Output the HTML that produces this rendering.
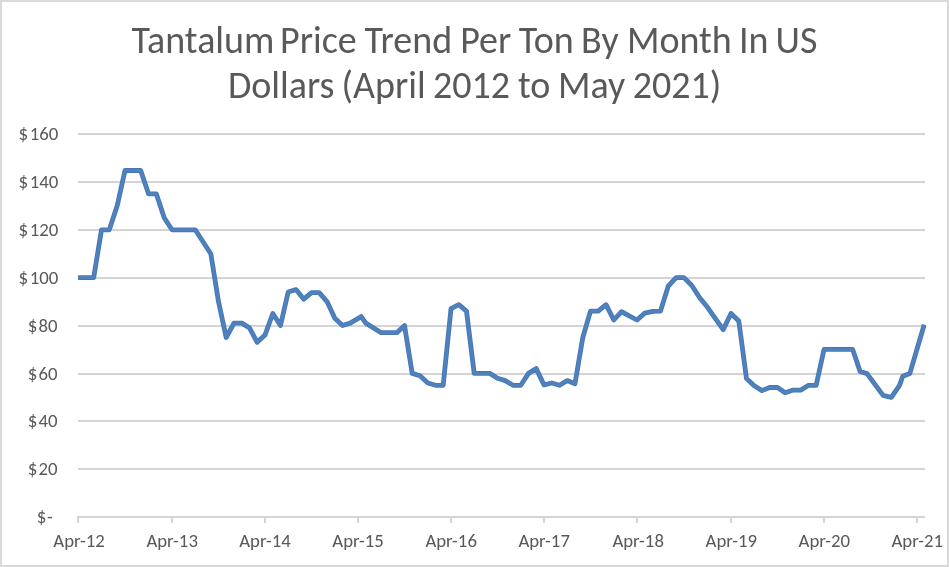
<!DOCTYPE html><html><head><meta charset="utf-8"><style>html,body{margin:0;padding:0;background:#fff;}svg{display:block}text{font-family:Carlito, 'Liberation Sans', sans-serif;fill:#595959}</style></head><body>
<svg width="949" height="567" viewBox="0 0 949 567">
<rect x="0" y="0" width="949" height="567" fill="#fff"/>
<rect x="1" y="1" width="947" height="565" fill="none" stroke="#d9d9d9" stroke-width="2"/>
<g stroke="#d4d4d4" stroke-width="2"><line x1="78" y1="134" x2="925" y2="134"/><line x1="78" y1="182" x2="925" y2="182"/><line x1="78" y1="230" x2="925" y2="230"/><line x1="78" y1="278" x2="925" y2="278"/><line x1="78" y1="326" x2="925" y2="326"/><line x1="78" y1="374" x2="925" y2="374"/><line x1="78" y1="421" x2="925" y2="421"/><line x1="78" y1="469" x2="925" y2="469"/></g>
<g stroke="#d4d4d4" stroke-width="2"><line x1="78" y1="517" x2="925" y2="517"/><line x1="78" y1="516" x2="78" y2="523"/><line x1="172" y1="516" x2="172" y2="523"/><line x1="265" y1="516" x2="265" y2="523"/><line x1="358" y1="516" x2="358" y2="523"/><line x1="451" y1="516" x2="451" y2="523"/><line x1="544" y1="516" x2="544" y2="523"/><line x1="637" y1="516" x2="637" y2="523"/><line x1="731" y1="516" x2="731" y2="523"/><line x1="824" y1="516" x2="824" y2="523"/><line x1="917" y1="516" x2="917" y2="523"/></g>
<g font-size="18.8"><text x="58.4" y="140" text-anchor="end" textLength="28.56" lengthAdjust="spacingAndGlyphs">160</text><text x="18.50" y="139.5" font-size="21" textLength="9.65" lengthAdjust="spacingAndGlyphs">$</text><text x="58.4" y="188" text-anchor="end" textLength="28.56" lengthAdjust="spacingAndGlyphs">140</text><text x="18.50" y="187.5" font-size="21" textLength="9.65" lengthAdjust="spacingAndGlyphs">$</text><text x="58.4" y="236" text-anchor="end" textLength="28.56" lengthAdjust="spacingAndGlyphs">120</text><text x="18.50" y="235.5" font-size="21" textLength="9.65" lengthAdjust="spacingAndGlyphs">$</text><text x="58.4" y="284" text-anchor="end" textLength="28.56" lengthAdjust="spacingAndGlyphs">100</text><text x="18.50" y="283.5" font-size="21" textLength="9.65" lengthAdjust="spacingAndGlyphs">$</text><text x="57.6" y="332" text-anchor="end" textLength="19.05" lengthAdjust="spacingAndGlyphs">80</text><text x="27.70" y="331.5" font-size="21" textLength="9.65" lengthAdjust="spacingAndGlyphs">$</text><text x="57.6" y="380" text-anchor="end" textLength="19.05" lengthAdjust="spacingAndGlyphs">60</text><text x="27.70" y="379.5" font-size="21" textLength="9.65" lengthAdjust="spacingAndGlyphs">$</text><text x="57.6" y="427" text-anchor="end" textLength="19.05" lengthAdjust="spacingAndGlyphs">40</text><text x="27.70" y="426.5" font-size="21" textLength="9.65" lengthAdjust="spacingAndGlyphs">$</text><text x="57.6" y="475" text-anchor="end" textLength="19.05" lengthAdjust="spacingAndGlyphs">20</text><text x="27.70" y="474.5" font-size="21" textLength="9.65" lengthAdjust="spacingAndGlyphs">$</text><text x="52.7" y="523" text-anchor="end" textLength="5.75" lengthAdjust="spacingAndGlyphs">-</text><text x="36.70" y="522.5" font-size="21" textLength="9.65" lengthAdjust="spacingAndGlyphs">$</text></g>
<g font-size="18.8"><text x="53.3" y="547" textLength="51.53" lengthAdjust="spacingAndGlyphs">Apr-12</text><text x="146.4" y="547" textLength="51.53" lengthAdjust="spacingAndGlyphs">Apr-13</text><text x="239.2" y="547" textLength="51.53" lengthAdjust="spacingAndGlyphs">Apr-14</text><text x="332.3" y="547" textLength="51.53" lengthAdjust="spacingAndGlyphs">Apr-15</text><text x="425.4" y="547" textLength="51.53" lengthAdjust="spacingAndGlyphs">Apr-16</text><text x="518.4" y="547" textLength="51.53" lengthAdjust="spacingAndGlyphs">Apr-17</text><text x="612.4" y="547" textLength="51.53" lengthAdjust="spacingAndGlyphs">Apr-18</text><text x="705.6" y="547" textLength="51.53" lengthAdjust="spacingAndGlyphs">Apr-19</text><text x="798.6" y="547" textLength="51.53" lengthAdjust="spacingAndGlyphs">Apr-20</text><text x="891.5" y="547" textLength="51.53" lengthAdjust="spacingAndGlyphs">Apr-21</text></g>
<g font-size="38"><text x="131.5" y="53" textLength="142.88" lengthAdjust="spacingAndGlyphs">Tantalum</text><text x="280.1" y="53" textLength="76.58" lengthAdjust="spacingAndGlyphs">Price</text><text x="364.4" y="53" textLength="87.75" lengthAdjust="spacingAndGlyphs">Trend</text><text x="460.2" y="53" textLength="51.03" lengthAdjust="spacingAndGlyphs">Per</text><text x="518.7" y="53" textLength="55.16" lengthAdjust="spacingAndGlyphs">Ton</text><text x="581.1" y="53" textLength="37.5" lengthAdjust="spacingAndGlyphs">By</text><text x="626.9" y="53" textLength="104.84" lengthAdjust="spacingAndGlyphs">Month</text><text x="738.9" y="53" textLength="29.55" lengthAdjust="spacingAndGlyphs">In</text><text x="775.5" y="53" textLength="41.84" lengthAdjust="spacingAndGlyphs">US</text><text x="227.9" y="97.7" textLength="106.53" lengthAdjust="spacingAndGlyphs">Dollars</text><text x="341.6" y="97.7" textLength="84.17" lengthAdjust="spacingAndGlyphs">(April</text><text x="433.0" y="97.7" textLength="77.05" lengthAdjust="spacingAndGlyphs">2012</text><text x="517.9" y="97.7" textLength="32.41" lengthAdjust="spacingAndGlyphs">to</text><text x="558.0" y="97.7" textLength="67.19" lengthAdjust="spacingAndGlyphs">May</text><text x="632.7" y="97.7" textLength="88.56" lengthAdjust="spacingAndGlyphs">2021)</text></g>
<polyline points="78.0,277.6 93.7,277.6 101.5,229.8 109.3,229.8 117.2,205.8 125.0,170.5 140.7,170.5 148.5,193.8 156.3,193.8 164.2,217.8 172.0,229.8 195.2,229.8 210.8,253.7 218.5,301.6 226.2,337.5 234.0,323.1 241.8,323.1 249.5,327.9 257.2,342.3 265.0,335.1 272.8,313.5 280.5,325.5 288.2,292.0 296.0,289.6 303.8,299.2 311.5,292.7 319.2,292.7 327.0,301.6 334.8,318.3 342.5,325.5 350.2,323.1 361.2,316.6 365.8,323.1 381.2,332.7 396.8,332.7 404.5,325.5 412.2,373.4 420.0,375.8 427.8,383.0 435.5,385.3 443.2,385.3 451.0,308.7 458.8,304.7 466.5,311.1 474.2,373.4 489.8,373.4 497.5,378.2 505.2,380.6 513.0,385.3 520.8,385.3 528.5,373.4 536.2,368.6 544.0,384.9 551.8,383.0 559.5,385.3 567.2,380.6 575.0,383.7 582.8,337.5 590.5,311.1 598.2,311.1 606.0,304.7 613.8,320.0 621.5,311.6 629.2,315.9 637.0,320.0 644.8,313.1 652.7,311.4 660.5,311.1 668.3,286.0 676.2,277.6 684.0,277.6 691.8,285.5 699.7,297.7 707.5,307.3 723.2,329.6 731.0,313.5 738.8,321.0 746.5,378.6 754.2,385.8 762.0,390.6 769.8,387.5 777.5,387.5 785.2,392.8 793.0,390.1 800.8,390.1 808.5,385.3 816.2,385.3 824.0,349.4 852.7,349.4 860.1,371.5 867.0,373.6 883.1,395.4 891.3,397.3 899.4,385.6 902.8,376.2 909.8,373.6 924.2,324.8" fill="none" stroke="#4676b6" stroke-width="4.8" stroke-linejoin="round" stroke-linecap="butt"/>
<polyline points="78.0,277.6 93.7,277.6 101.5,229.8 109.3,229.8 117.2,205.8 125.0,170.5 140.7,170.5 148.5,193.8 156.3,193.8 164.2,217.8 172.0,229.8 195.2,229.8 210.8,253.7 218.5,301.6 226.2,337.5 234.0,323.1 241.8,323.1 249.5,327.9 257.2,342.3 265.0,335.1 272.8,313.5 280.5,325.5 288.2,292.0 296.0,289.6 303.8,299.2 311.5,292.7 319.2,292.7 327.0,301.6 334.8,318.3 342.5,325.5 350.2,323.1 361.2,316.6 365.8,323.1 381.2,332.7 396.8,332.7 404.5,325.5 412.2,373.4 420.0,375.8 427.8,383.0 435.5,385.3 443.2,385.3 451.0,308.7 458.8,304.7 466.5,311.1 474.2,373.4 489.8,373.4 497.5,378.2 505.2,380.6 513.0,385.3 520.8,385.3 528.5,373.4 536.2,368.6 544.0,384.9 551.8,383.0 559.5,385.3 567.2,380.6 575.0,383.7 582.8,337.5 590.5,311.1 598.2,311.1 606.0,304.7 613.8,320.0 621.5,311.6 629.2,315.9 637.0,320.0 644.8,313.1 652.7,311.4 660.5,311.1 668.3,286.0 676.2,277.6 684.0,277.6 691.8,285.5 699.7,297.7 707.5,307.3 723.2,329.6 731.0,313.5 738.8,321.0 746.5,378.6 754.2,385.8 762.0,390.6 769.8,387.5 777.5,387.5 785.2,392.8 793.0,390.1 800.8,390.1 808.5,385.3 816.2,385.3 824.0,349.4 852.7,349.4 860.1,371.5 867.0,373.6 883.1,395.4 891.3,397.3 899.4,385.6 902.8,376.2 909.8,373.6 924.2,324.8" fill="none" stroke="#4f81bd" stroke-width="3.0" stroke-linejoin="round" stroke-linecap="butt"/>
</svg></body></html>
